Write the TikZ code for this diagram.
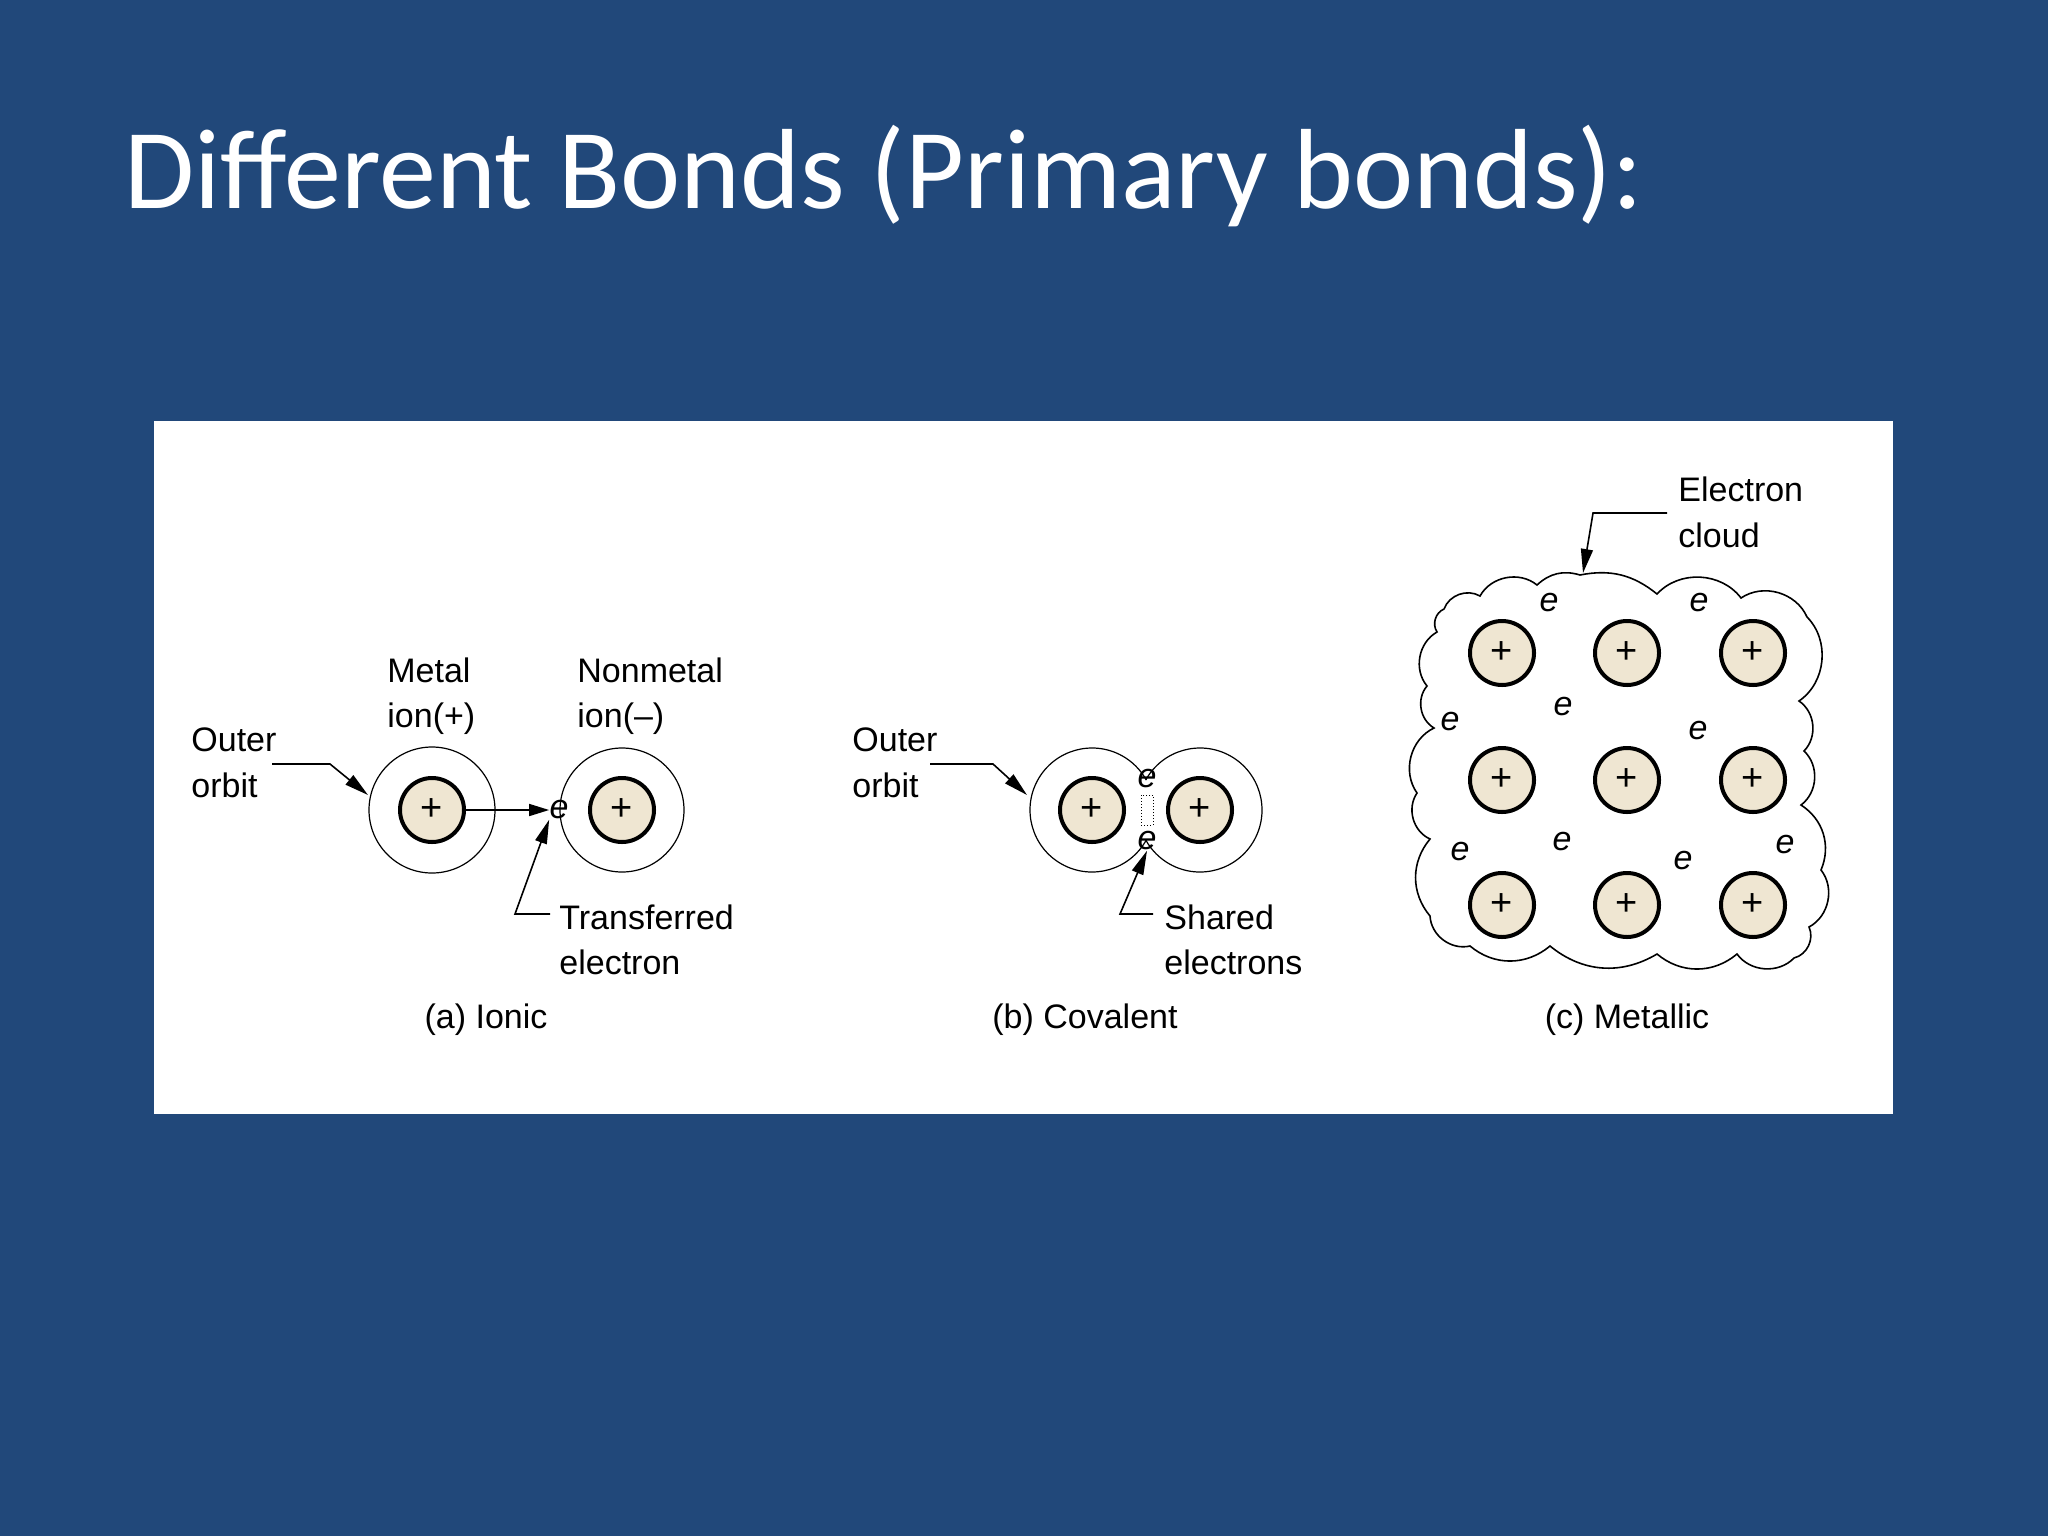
\documentclass[tikz,border=0pt]{standalone}
\usepackage{fontspec}
\setmainfont{Liberation Sans}
\newfontfamily\titlefont{Carlito}
\usetikzlibrary{arrows.meta}
\definecolor{bgblue}{RGB}{33,72,122}
\definecolor{ionfill}{RGB}{239,230,210}
\tikzset{
  lbl/.style={anchor=base west,inner sep=0pt,font=\fontsize{17}{20}\selectfont},
  captxt/.style={anchor=base,inner sep=0pt,font=\fontsize{17}{20}\selectfont},
  el/.style={inner sep=0pt,font=\fontsize{17}{20}\selectfont\itshape},
  ion/.style={circle,draw,line width=2pt,fill=ionfill,minimum size=32pt,inner sep=0pt,font=\fontsize{19}{19}\selectfont},
  orbit/.style={draw,line width=0.6pt},
  lead/.style={line width=0.8pt,-{Triangle[length=12pt,width=6pt]}},
}
\begin{document}
\begin{tikzpicture}[x=0.5pt,y=-0.5pt]
\fill[bgblue] (0,0) rectangle (2048,1536);
\useasboundingbox (0,0) rectangle (2048,1536);
\node[anchor=base west,inner sep=0pt,text=white,font=\titlefont\fontsize{57}{57}\selectfont] (title) at (124,208) {Different Bonds (Primary bonds):};
\fill[white] (154,421) rectangle (1893,1114);

% ---------- Ionic ----------
\draw[orbit] (432,810) circle (63);
\draw[orbit] (622,810) circle (62);
\node[ion] (m1) at (432,810) {+};
\node[ion] (n1) at (622,810) {+};
\node[el] (e1) at (559,810) {e};
\draw[line width=0.8pt,-{Triangle[length=10pt,width=6pt]}] (m1.east) -- (e1.west);
\node[lbl] (out1) at (191,751) {Outer};
\node[lbl] (orb1) at (191,797) {orbit};
\coordinate (k1) at (330,764);
\draw[lead] (272,764) -- (k1) -- (368,795);
\node[lbl] (met1) at (387,682) {Metal};
\node[lbl] (met2) at (387,727) {ion(+)};
\node[lbl] (non1) at (577,682) {Nonmetal};
\node[lbl] (non2) at (577,727) {ion(--)};
\node[lbl] (tr1) at (559,929) {Transferred};
\node[lbl] (tr2) at (559,974) {electron};
\coordinate (t1) at (515,914);
\draw[lead] (550,914) -- (t1) -- (e1.south west);
\node[captxt] (capA) at (486,1028) {(a) Ionic};

% ---------- Covalent ----------
\draw[orbit] (1092,810) ++(29:62) arc[start angle=29,end angle=331,radius=62];
\draw[orbit] (1200,810) ++(-151:62) arc[start angle=-151,end angle=151,radius=62];
\node[ion] (c1) at (1092,810) {+};
\node[ion] (c2) at (1200,810) {+};
\node[el] (ea) at (1147,779) {e};
\node[el] (eb) at (1147,841) {e};
\draw[densely dotted,line width=0.5pt] (1141,795) rectangle (1153,825);
\node[lbl] (out2) at (852,751) {Outer};
\node[lbl] (orb2) at (852,797) {orbit};
\coordinate (k2) at (993,764);
\draw[lead] (930,764) -- (k2) -- (1027,795);
\node[lbl] (sh1) at (1164,929) {Shared};
\node[lbl] (sh2) at (1164,974) {electrons};
\coordinate (t2) at (1120,914);
\draw[lead] (1153,914) -- (t2) -- (eb.south);
\node[captxt] (capB) at (1085,1028) {(b) Covalent};

% ---------- Metallic ----------
\draw[line width=0.8pt]
 (1444,609) to[bend left=50] (1480,596) to[bend left=50] (1537,585)
 to[bend left=30] (1580,575) to[bend left=25] (1657,594)
 to[bend left=50] (1741,598) to[bend left=50] (1807,617)
 to[bend left=50] (1799,701) to[bend left=50] (1804,751)
 to[bend left=50] (1801,805) to[bend left=40] (1821,870)
 to[bend left=50] (1809,927) to[bend left=50] (1794,958)
 to[bend left=50] (1737,954) to[bend left=40] (1657,954)
 to[bend left=35] (1550,946) to[bend left=40] (1470,946)
 to[bend left=50] (1430,916) to[bend left=40] (1430,839)
 to[bend left=50] (1417,793) to[bend left=50] (1434,728)
 to[bend left=50] (1427,686) to[bend left=50] (1437,632)
 to[bend left=50] (1444,609);
\foreach \i/\x in {1/1502,2/1627,3/1753}{
  \foreach \j/\y in {1/653,2/780,3/905}{
    \node[ion] (p\i\j) at (\x,\y) {+};
  }
}
\foreach \n/\x/\y in {a/1549/603,b/1699/603,c/1450/722,d/1563/707,e/1698/731,f/1460/852,g/1562/842,h/1683/861,i/1785/845}{
  \node[el] (m\n) at (\x,\y) {e};
}
\node[lbl] (ec1) at (1678,501) {Electron};
\node[lbl] (ec2) at (1678,547) {cloud};
\coordinate (k3) at (1593,513);
\draw[lead] (1667,513) -- (k3) -- (1583,573);
\node[captxt] (capC) at (1627,1028) {(c) Metallic};
\end{tikzpicture}
\end{document}
